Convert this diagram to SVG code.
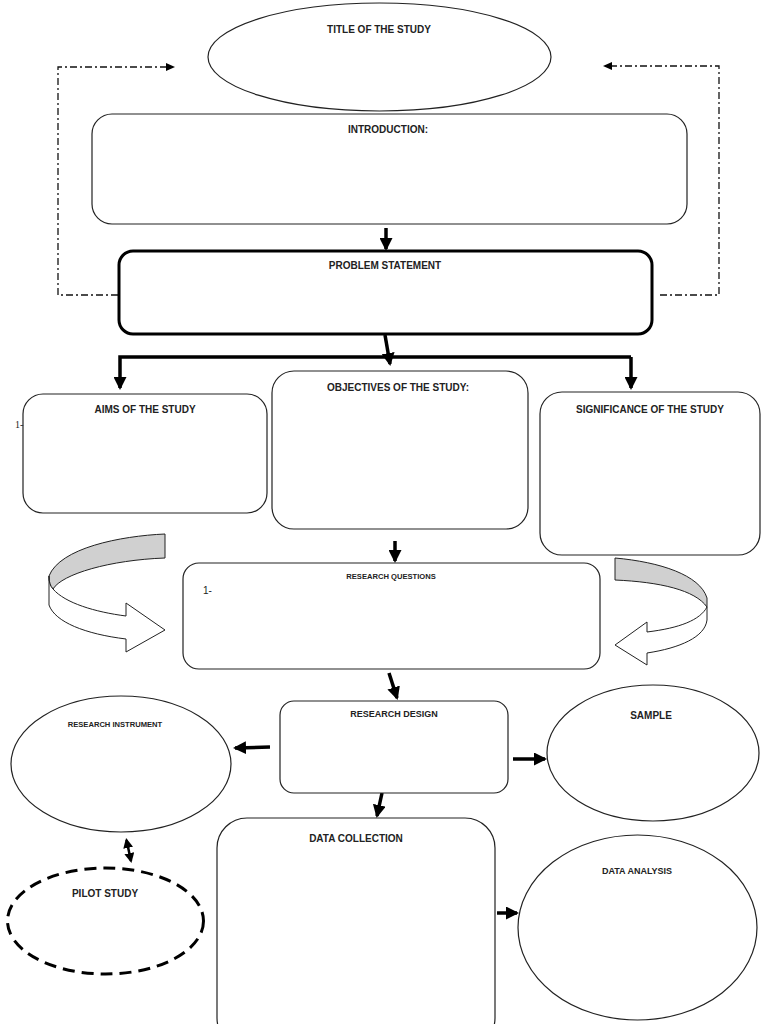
<svg xmlns="http://www.w3.org/2000/svg" width="768" height="1024" viewBox="0 0 768 1024">
<style>
.box{fill:#fff;stroke:#222;stroke-width:1.2}
.t{font-family:"Liberation Sans",Arial,sans-serif;font-weight:bold;font-size:10px;fill:#222;text-anchor:middle}
.ts{font-size:7.6px}
.tm{font-size:9px}
.arr{fill:none;stroke:#000;stroke-width:3.5}
.dd{fill:none;stroke:#111;stroke-width:1.3;stroke-dasharray:7 3 2 3}
</style>
<defs>
<marker id="ah" markerUnits="userSpaceOnUse" markerWidth="13" markerHeight="13" refX="11" refY="6.5" orient="auto"><path d="M0,0 L13,6.5 L0,13 Z" fill="#000"/></marker>
<marker id="ahs" markerUnits="userSpaceOnUse" markerWidth="9" markerHeight="8" refX="8" refY="4" orient="auto"><path d="M0,0 L9,4 L0,8 Z" fill="#000"/></marker>
<marker id="ahb" markerUnits="userSpaceOnUse" markerWidth="10" markerHeight="10" refX="8" refY="5" orient="auto-start-reverse"><path d="M0,0 L10,5 L0,10 Z" fill="#000"/></marker>
</defs>
<rect width="768" height="1024" fill="#fff"/>

<g id="connectors">
<path class="dd" d="M118,295 L58,295 L58,67 L174,67" marker-end="url(#ahs)"/>
<path class="dd" d="M660,295 L719,295 L719,66 L604,66" marker-end="url(#ahs)"/>
<line class="arr" x1="386" y1="228" x2="386" y2="249" marker-end="url(#ah)"/>
<line class="arr" x1="385" y1="335" x2="390" y2="364" marker-end="url(#ah)"/>
<path class="arr" d="M631,357 L120,357 L120,388" marker-end="url(#ah)"/>
<line class="arr" x1="631" y1="357" x2="631" y2="388" marker-end="url(#ah)"/>
<line class="arr" x1="395" y1="541" x2="395" y2="561" marker-end="url(#ah)"/>
<line class="arr" x1="389" y1="673" x2="397" y2="698" marker-end="url(#ah)" stroke-width="4.5"/>
<line class="arr" x1="382" y1="793" x2="377" y2="816" marker-end="url(#ah)" stroke-width="4.5"/>
<line class="arr" x1="270" y1="747" x2="235" y2="748" marker-end="url(#ah)"/>
<line class="arr" x1="513" y1="759" x2="545" y2="759" marker-end="url(#ah)"/>
<line class="arr" x1="497" y1="913" x2="517" y2="913" marker-end="url(#ah)"/>
<line x1="126.5" y1="840" x2="131" y2="861" stroke="#000" stroke-width="2.5" marker-start="url(#ahb)" marker-end="url(#ahb)"/>
</g>

<g id="curved-left">
<path d="M165,534 C120,536 60,548 49,576 C49,582 50,586 53,589 C62,574 110,560 165,558 Z" fill="#d0d0d0" stroke="#222" stroke-width="1"/>
<path d="M53,589 C65,603 95,612 126,616 L126,603 L165,630 L126,652 L126,639 C85,634 55,622 49,605 L49,576 C49,582 50,586 53,589 Z" fill="#fff" stroke="#222" stroke-width="1"/>
</g>
<g id="curved-right">
<path d="M615,558 C660,562 700,575 707,598 L707,607 C695,590 660,582 615,580 Z" fill="#d0d0d0" stroke="#222" stroke-width="1"/>
<path d="M707,607 C700,620 680,628 647,632 L647,622 L615,645 L647,665 L647,653 C680,648 705,637 707,620 Z" fill="#fff" stroke="#222" stroke-width="1"/>
</g>

<g id="title"><ellipse class="box" cx="379.5" cy="57" rx="171.5" ry="54"/><text class="t" x="379" y="33">TITLE OF THE STUDY</text></g>
<g id="introduction"><rect class="box" x="92" y="114" width="595" height="110" rx="20"/><text class="t" x="388" y="133">INTRODUCTION:</text></g>
<g id="problem"><rect x="119" y="251" width="533" height="83" rx="14" fill="#fff" stroke="#000" stroke-width="3"/><text class="t" x="385" y="269">PROBLEM STATEMENT</text></g>
<g id="aims"><rect class="box" x="23" y="394" width="244" height="119" rx="20"/><text class="t" x="145" y="413">AIMS OF THE STUDY</text><text x="15" y="428" font-family="Liberation Serif,serif" font-size="10" fill="#222">1-</text></g>
<g id="objectives"><rect class="box" x="272" y="371" width="256" height="158" rx="22"/><text class="t" x="398" y="391">OBJECTIVES OF THE STUDY:</text></g>
<g id="significance"><rect class="box" x="540" y="392" width="220" height="163" rx="22"/><text class="t" x="650" y="413">SIGNIFICANCE OF THE STUDY</text></g>
<g id="questions"><rect class="box" x="183" y="563" width="417" height="106" rx="16"/><text class="t ts" x="391" y="579">RESEARCH QUESTIONS</text><text x="203" y="594" font-family="Liberation Sans,sans-serif" font-size="10" fill="#222">1-</text></g>
<g id="design"><rect class="box" x="280" y="701" width="228" height="92" rx="14"/><text class="t tm" x="394" y="717">RESEARCH DESIGN</text></g>
<g id="instrument"><ellipse class="box" cx="121" cy="764" rx="110" ry="68"/><text class="t ts" x="115" y="727">RESEARCH INSTRUMENT</text></g>
<g id="sample"><ellipse class="box" cx="653" cy="753" rx="106" ry="68"/><text class="t" x="651" y="719">SAMPLE</text></g>
<g id="pilot"><ellipse cx="105.5" cy="921" rx="98" ry="53" fill="#fff" stroke="#000" stroke-width="3" stroke-dasharray="12 7"/><text class="t" x="105" y="897">PILOT STUDY</text></g>
<g id="collection"><rect class="box" x="217" y="818" width="278" height="230" rx="30"/><text class="t" x="356" y="842">DATA COLLECTION</text></g>
<g id="analysis"><ellipse class="box" cx="637.5" cy="927.5" rx="119.5" ry="92.5"/><text class="t tm" x="637" y="874">DATA ANALYSIS</text></g>
</svg>
